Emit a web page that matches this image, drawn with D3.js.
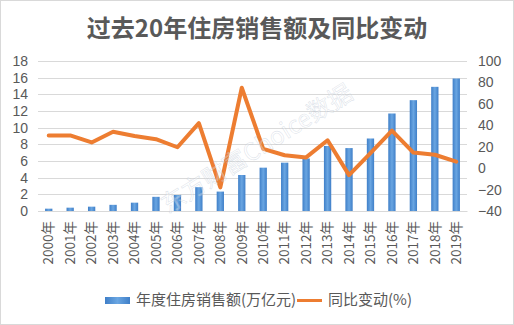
<!DOCTYPE html>
<html>
<head>
<meta charset="utf-8">
<script src="https://cdn.jsdelivr.net/npm/d3@7/dist/d3.min.js"></script>
<style>
  html, body { margin: 0; padding: 0; background: #fff; }
  svg { display: block; font-family: "Noto Sans CJK SC", "Microsoft YaHei", sans-serif; }
</style>
</head>
<body>
<svg id="chart" width="514" height="325"></svg>
<script>
// Annual residential sales (trillion yuan) and year-on-year change (%)
const years = ["2000年","2001年","2002年","2003年","2004年","2005年","2006年","2007年","2008年","2009年",
               "2010年","2011年","2012年","2013年","2014年","2015年","2016年","2017年","2018年","2019年"];
const salesValues = [0.28, 0.4, 0.52, 0.74, 1.0, 1.7, 1.92, 2.86, 2.33, 4.32,
                     5.2, 5.8, 6.3, 7.8, 7.55, 8.7, 11.7, 13.3, 14.9, 15.9];
const yoyValues = [30.5, 30.5, 24, 34, 30, 27, 19.5, 42, -18, 75,
                   18, 12, 10, 26, -6.5, 14, 35, 14.5, 12.5, 6];
const leftTicks = [0, 2, 4, 6, 8, 10, 12, 14, 16, 18];
const rightTicks = [-40, -20, 0, 20, 40, 60, 80, 100];
const titleText = "过去20年住房销售额及同比变动";
const seriesNames = ["年度住房销售额(万亿元)", "同比变动(%)"];
const watermarkText = "东方财富Choice数据";

const svg = d3.select("#chart");
const W = 514, H = 325;
const plot = { left: 38, right: 467, top: 61, bottom: 211 };
const textColor = "#595959";
const digitFont = "'Liberation Sans', Arial, sans-serif";

// frame
svg.append("rect").attr("x", 0.5).attr("y", 0.5).attr("width", W - 1).attr("height", H - 1)
  .attr("fill", "#fff").attr("stroke", "#d9d9d9");

// bar gradient
const defs = svg.append("defs");
const grad = defs.append("linearGradient").attr("id", "barGrad")
  .attr("x1", "0%").attr("x2", "100%").attr("y1", "0%").attr("y2", "0%");
grad.append("stop").attr("offset", "0%").attr("stop-color", "#3f7fc8");
grad.append("stop").attr("offset", "50%").attr("stop-color", "#6aa6e2");
grad.append("stop").attr("offset", "100%").attr("stop-color", "#3f7fc8");

// scales
const x = d3.scaleBand().domain(years).range([plot.left, plot.right]).padding(0);
const yL = d3.scaleLinear().domain([0, 18]).range([plot.bottom, plot.top]);
const yR = d3.scaleLinear().domain([-40, 100]).range([plot.bottom, plot.top]);

// title
svg.append("text").attr("x", 257).attr("y", 37).attr("text-anchor", "middle")
  .attr("font-size", 24).attr("font-weight", "bold").attr("fill", textColor)
  .text(titleText);

// gridlines
svg.append("g").selectAll("line").data(leftTicks).join("line")
  .attr("x1", plot.left).attr("x2", plot.right)
  .attr("y1", d => Math.round(yL(d)) + 0.5).attr("y2", d => Math.round(yL(d)) + 0.5)
  .attr("stroke", "#d9d9d9").attr("stroke-width", 1);

// left axis
const axL = svg.append("g").attr("transform", `translate(${plot.left},0)`)
  .call(d3.axisLeft(yL).tickValues(leftTicks).tickSize(0).tickPadding(10));
axL.select(".domain").remove();
axL.selectAll("text").attr("font-size", 14).attr("fill", textColor)
  .attr("font-family", digitFont);

// right axis
const axR = svg.append("g").attr("transform", `translate(${plot.right},0)`)
  .call(d3.axisRight(yR).tickValues(rightTicks).tickSize(0).tickPadding(11));
axR.select(".domain").remove();
axR.selectAll("text").attr("font-size", 14).attr("fill", textColor)
  .attr("font-family", digitFont);

// bars
const barW = x.bandwidth() * 0.34;
svg.append("g").selectAll("rect").data(years).join("rect")
  .attr("x", (d) => x(d) + (x.bandwidth() - barW) / 2)
  .attr("y", (d, i) => yL(salesValues[i]))
  .attr("width", barW)
  .attr("height", (d, i) => yL(0) - yL(salesValues[i]))
  .attr("fill", "url(#barGrad)");

// x axis labels
const axX = svg.append("g").attr("transform", `translate(0,${plot.bottom})`)
  .call(d3.axisBottom(x).tickSize(0).tickPadding(0));
axX.select(".domain").attr("stroke", "#d9d9d9");
axX.selectAll("text")
  .attr("font-size", 13.5).attr("fill", textColor)
  .attr("font-family", "'Noto Sans CJK SC', sans-serif")
  .attr("text-anchor", "end")
  .attr("transform", "translate(0,10) rotate(-90)")
  .attr("dx", 0).attr("dy", "0.35em").attr("y", 0).attr("x", 0);

// yoy line
const line = d3.line()
  .x((d, i) => x(years[i]) + x.bandwidth() / 2)
  .y(d => yR(d));
svg.append("path").datum(yoyValues)
  .attr("d", line).attr("fill", "none")
  .attr("stroke", "#ed7d31").attr("stroke-width", 4)
  .attr("stroke-linejoin", "round").attr("stroke-linecap", "round");

// watermark
svg.append("text")
  .attr("transform", "translate(168,214) rotate(-32)")
  .attr("font-size", 24).attr("font-family", "'Noto Sans CJK SC', sans-serif")
  .attr("fill", "#ffffff").attr("fill-opacity", 0.3)
  .attr("stroke", "#9fb0c4").attr("stroke-width", 0.6).attr("stroke-opacity", 0.35)
  .text(watermarkText);

// legend
const lg = svg.append("g");
lg.append("rect").attr("x", 105).attr("y", 297).attr("width", 25).attr("height", 7)
  .attr("fill", "url(#barGrad)");
lg.append("text").attr("x", 136).attr("y", 300).attr("dy", "0.35em")
  .attr("font-size", 15).attr("fill", textColor).text(seriesNames[0]);
lg.append("line").attr("x1", 297).attr("x2", 322).attr("y1", 300.5).attr("y2", 300.5)
  .attr("stroke", "#ed7d31").attr("stroke-width", 3);
lg.append("text").attr("x", 328).attr("y", 300).attr("dy", "0.35em")
  .attr("font-size", 15).attr("fill", textColor).text(seriesNames[1]);
</script>
</body>
</html>
